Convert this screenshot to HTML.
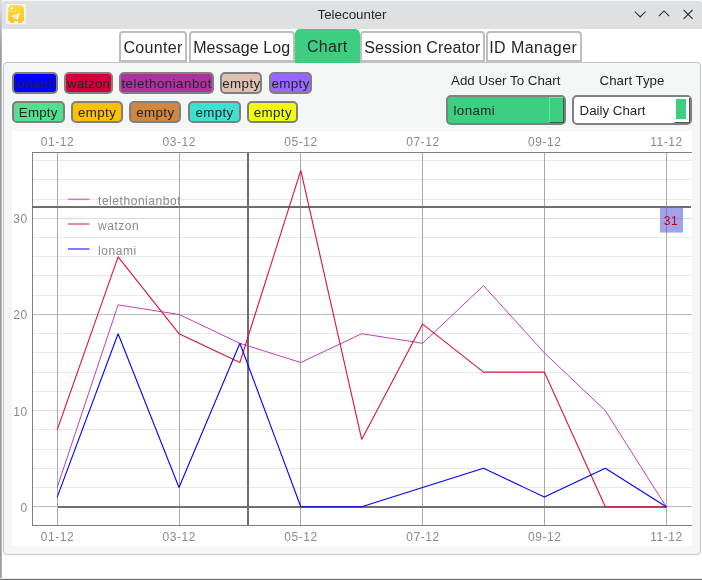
<!DOCTYPE html>
<html><head><meta charset="utf-8"><title>Telecounter</title>
<style>
html,body{margin:0;padding:0}
body{will-change:transform;width:702px;height:580px;overflow:hidden;background:#fff;position:relative;font-family:"Liberation Sans",sans-serif;color:#232629}
div{box-sizing:border-box;position:absolute}
#shl{left:0;top:0;width:2px;height:580px;background:linear-gradient(90deg,#909090,#c0c0c0)}
#shl2{left:0;top:0;width:2px;height:45px;background:linear-gradient(180deg,rgba(222,222,222,1),rgba(222,222,222,0.75) 30%,rgba(222,222,222,0))}
#shb{left:0;top:578px;width:702px;height:2px;background:linear-gradient(180deg,#f0f0f0 0,#e4e4e4 45%,#7a7a7a 55%,#5a5a5a 100%)}
#sht{left:0;top:0;width:702px;height:1px;background:#f6f6f6}
#title{left:2px;top:1px;width:700px;height:28px;background:#dfe0e2;border-radius:3px 3px 0 0}
#ttext{left:0;top:0;width:702px;height:29px;line-height:29px;text-align:center;font-size:13.33px;padding-left:2px}
.tab{top:31px;height:31px;border:2px solid #bebebe;border-radius:4px 4px 0 0;background:#fff;font-size:16px;line-height:30px;text-align:center;white-space:nowrap}
#pane{left:3px;top:62px;width:698px;height:492.5px;background:#f4f5f5;border:1px solid #c4c4c4;border-radius:4px}
#chartbg{left:12px;top:131px;width:680px;height:415px;background:#fff}
.cb{border:2px solid #808080;border-radius:5px;font-size:13.33px;line-height:19.4px;text-align:center;white-space:nowrap}
.lbl{font-size:13.33px;white-space:nowrap;line-height:16px}
.combo{top:95px;height:29.6px;width:120px;border:2px solid #808080;border-radius:5px;font-size:13.33px;line-height:27px;padding-left:5.5px}
.dd{top:0px;width:16px;height:25.5px;border-style:solid;border-width:1.6px}
svg{position:absolute;left:0;top:0}
</style></head><body>
<div id="sht"></div>
<div id="title"></div>
<div id="ttext">Telecounter</div>
<div id="icon" style="left:6px;top:4px;width:20px;height:20px;background:#f3f3f3"></div>
<svg width="702" height="30" viewBox="0 0 702 30" style="z-index:3">
<defs><linearGradient id="ig" x1="0" y1="0" x2="0" y2="1"><stop offset="0" stop-color="#ffda3e"/><stop offset="1" stop-color="#fcc41c"/></linearGradient></defs>
<path d="M8.2 20 L8.2 9.5 Q8.2 5.2 12.5 5.2 L19.7 5.2 Q24 5.2 24 9.5 L24 20 Q24 21.3 22.8 21.3 L22.2 21.3 L22.2 22 Q22.2 23.1 21 23.1 L19.2 23.1 Q18 23.1 18 22 L18 21.3 L14 21.3 L14 22 Q14 23.1 12.8 23.1 L11.4 23.1 Q10.2 23.1 10.2 22 L10.2 21.3 L9.4 21.3 Q8.2 21.3 8.2 20 Z" fill="url(#ig)"/>
<rect x="8" y="10.6" width="8" height="0.9" fill="#ffe98a"/>
<ellipse cx="11.7" cy="8.2" rx="1.3" ry="1" fill="#fff8d8"/>
<path d="M10.6 16 L20 13 L17.7 19.9 L15.2 17.7 L14 19.3 L13.8 17.2 Z" fill="#f6f6ee"/>
<path d="M13.8 17.2 L20 13 L15.2 17.7 L14 19.3 Z" fill="#dfe6da"/>
<g fill="none" stroke="#232629" stroke-width="1.05">
<path d="M634.8 11.5 L640.2 16.9 L645.6 11.5"/>
<path d="M658.8 16.2 L664 11 L669.2 16.2"/>
<path d="M683.6 9.9 L692.6 18.9 M692.6 9.9 L683.6 18.9"/>
</g>
</svg>
<div class="tab" style="left:119px;width:68px;letter-spacing:0.3px">Counter</div>
<div class="tab" style="left:188.5px;width:106.5px;letter-spacing:0.1px">Message Log</div>
<div class="tab" style="left:360px;width:124.5px;letter-spacing:0.1px">Session Creator</div>
<div class="tab" style="left:486px;width:96px;letter-spacing:0.45px;text-indent:-1.5px">ID Manager</div>
<div id="pane"></div>
<div id="charttab" style="left:295px;top:29px;width:64.5px;height:34px;background:#3dce82;border-radius:5px 5px 0 0;font-size:16px;line-height:36px;text-align:center;letter-spacing:0.3px">Chart</div>
<div class="cb" style="left:12px;top:72px;width:45.5px;height:22px;background:#0000ff;letter-spacing:0.35px">lonami</div>
<div class="cb" style="left:64.3px;top:72px;width:48.4px;height:22px;background:#d00038;letter-spacing:0.16px">watzon</div>
<div class="cb" style="left:119.4px;top:72px;width:94.4px;height:22px;background:#b030a0;letter-spacing:0.48px">telethonianbot</div>
<div class="cb" style="left:220.3px;top:72px;width:42.2px;height:22px;background:#e0c0b0;letter-spacing:0.4px">empty</div>
<div class="cb" style="left:269.3px;top:72px;width:42.7px;height:22px;background:#9966ff;letter-spacing:0.4px">empty</div>
<div class="cb" style="left:12px;top:101px;width:52.5px;height:22px;background:#50e090;letter-spacing:0.2px">Empty</div>
<div class="cb" style="left:71.3px;top:101px;width:51.7px;height:22px;background:#ffc000;letter-spacing:0.4px">empty</div>
<div class="cb" style="left:129.3px;top:101px;width:52.2px;height:22px;background:#d08840;letter-spacing:0.4px">empty</div>
<div class="cb" style="left:188.3px;top:101px;width:52.5px;height:22px;background:#40e0d0;letter-spacing:0.4px">empty</div>
<div class="cb" style="left:247.3px;top:101px;width:51.2px;height:22px;background:#f0ff10;letter-spacing:0.4px">empty</div>
<div class="lbl" style="left:451px;top:73px;letter-spacing:0px">Add User To Chart</div>
<div class="lbl" style="left:599.5px;top:73px;letter-spacing:0px">Chart Type</div>
<div class="combo" style="left:446px;background:#3dce82;letter-spacing:0.4px">lonami<div class="dd" style="left:100.6px;width:15.4px;border-color:#5ce8a0 #1d6b41 #1d6b41 #5ce8a0;background:#3dce82"></div></div>
<div class="combo" style="left:572px;background:#fff">Daily Chart<div class="dd" style="left:100px;border-color:#fff #505458 #505458 #fff;border-width:1.8px;background:#fff"><div style="left:1.2px;top:1.2px;width:10px;height:20px;background:#3dce82"></div></div></div>
<div id="chartbg"></div>
<svg id="chart" width="702" height="580" viewBox="0 0 702 580" shape-rendering="auto">
<g shape-rendering="crispEdges">
<line x1="33" x2="692" y1="506.5" y2="506.5" stroke="#bcbcbc"/>
<line x1="33" x2="692" y1="487.5" y2="487.5" stroke="#e9e9e9"/>
<line x1="33" x2="692" y1="468.5" y2="468.5" stroke="#e9e9e9"/>
<line x1="33" x2="692" y1="449.5" y2="449.5" stroke="#e9e9e9"/>
<line x1="33" x2="692" y1="429.5" y2="429.5" stroke="#e9e9e9"/>
<line x1="33" x2="692" y1="410.5" y2="410.5" stroke="#dcdcdc"/>
<line x1="33" x2="692" y1="391.5" y2="391.5" stroke="#e9e9e9"/>
<line x1="33" x2="692" y1="372.5" y2="372.5" stroke="#e9e9e9"/>
<line x1="33" x2="692" y1="352.5" y2="352.5" stroke="#e9e9e9"/>
<line x1="33" x2="692" y1="333.5" y2="333.5" stroke="#e9e9e9"/>
<line x1="33" x2="692" y1="314.5" y2="314.5" stroke="#bcbcbc"/>
<line x1="33" x2="692" y1="295.5" y2="295.5" stroke="#e9e9e9"/>
<line x1="33" x2="692" y1="275.5" y2="275.5" stroke="#e9e9e9"/>
<line x1="33" x2="692" y1="256.5" y2="256.5" stroke="#e9e9e9"/>
<line x1="33" x2="692" y1="237.5" y2="237.5" stroke="#e9e9e9"/>
<line x1="33" x2="692" y1="218.5" y2="218.5" stroke="#dcdcdc"/>
<line x1="33" x2="692" y1="199.5" y2="199.5" stroke="#e9e9e9"/>
<line x1="33" x2="692" y1="179.5" y2="179.5" stroke="#e9e9e9"/>
<line x1="33" x2="692" y1="160.5" y2="160.5" stroke="#e9e9e9"/>
<line x1="57.5" x2="57.5" y1="153" y2="525" stroke="#a8a8a8"/>
<line x1="179.5" x2="179.5" y1="153" y2="525" stroke="#a8a8a8"/>
<line x1="300.5" x2="300.5" y1="153" y2="525" stroke="#a8a8a8"/>
<line x1="422.5" x2="422.5" y1="153" y2="525" stroke="#a8a8a8"/>
<line x1="544.5" x2="544.5" y1="153" y2="525" stroke="#a8a8a8"/>
<line x1="666.5" x2="666.5" y1="153" y2="525" stroke="#a8a8a8"/>
<line x1="32.5" x2="32.5" y1="152" y2="526" stroke="#808080"/>
<line x1="32" x2="692" y1="152.5" y2="152.5" stroke="#808080"/>
<line x1="32" x2="692" y1="525.5" y2="525.5" stroke="#808080"/>
<rect x="57.5" y="506" width="609" height="1.8" fill="#707070"/>
<rect x="32" y="206" width="659.4" height="2" fill="#6e6e6e"/>
<rect x="247" y="153" width="2" height="372" fill="#6e6e6e"/>
</g>
<g fill="none" stroke-width="1.1" stroke-linejoin="bevel">
<polyline points="57.20,487.48 118.10,304.87 179.00,314.48 239.90,343.31 300.80,362.53 361.70,333.70 422.60,343.31 483.50,285.65 544.40,352.92 605.30,410.59 666.20,506.70" stroke="#bd35ad" stroke-width="0.95"/>
<polyline points="57.20,429.81 118.10,256.81 179.00,333.70 239.90,362.53 300.80,170.31 361.70,439.42 422.60,324.09 483.50,372.15 544.40,372.15 605.30,506.70 666.20,506.70" stroke="#dc143c"/>
<polyline points="57.20,497.09 118.10,333.70 179.00,487.48 239.90,343.31 300.80,506.70 361.70,506.70 422.60,487.48 483.50,468.26 544.40,497.09 605.30,468.26 666.20,506.70" stroke="#0000ff"/>
</g>
<rect x="660" y="207" width="23" height="25.6" fill="#6464dc" fill-opacity="0.6"/>
<g font-family="'Liberation Sans', sans-serif" font-size="12" fill="#8a8a8a" letter-spacing="0.55">
<text x="57.5" y="145.9" text-anchor="middle">01-12</text>
<text x="57.5" y="540.9" text-anchor="middle">01-12</text>
<text x="179.3" y="145.9" text-anchor="middle">03-12</text>
<text x="179.3" y="540.9" text-anchor="middle">03-12</text>
<text x="301.1" y="145.9" text-anchor="middle">05-12</text>
<text x="301.1" y="540.9" text-anchor="middle">05-12</text>
<text x="422.9" y="145.9" text-anchor="middle">07-12</text>
<text x="422.9" y="540.9" text-anchor="middle">07-12</text>
<text x="544.7" y="145.9" text-anchor="middle">09-12</text>
<text x="544.7" y="540.9" text-anchor="middle">09-12</text>
<text x="666.5" y="145.9" text-anchor="middle">11-12</text>
<text x="666.5" y="540.9" text-anchor="middle">11-12</text>
<text x="27.8" y="511.7" text-anchor="end">0</text>
<text x="27.8" y="415.8" text-anchor="end">10</text>
<text x="27.8" y="319.2" text-anchor="end">20</text>
<text x="27.8" y="222.8" text-anchor="end">30</text>
<text x="98" y="205">telethonianbot</text>
<text x="98" y="229.5">watzon</text>
<text x="98" y="254.5">lonami</text>
<text x="671" y="225" text-anchor="middle" fill="#d00000">31</text>
</g>
<g stroke-width="1.6" stroke-opacity="0.62">
<line x1="68" x2="89.5" y1="199.3" y2="199.3" stroke="#c234b4"/>
<line x1="68" x2="89.5" y1="224" y2="224" stroke="#dc143c"/>
<line x1="68" x2="89.5" y1="249" y2="249" stroke="#0000ff"/>
</g>
</svg>
<div id="shl"></div><div id="shl2"></div>
<div id="shb"></div>
</body></html>
